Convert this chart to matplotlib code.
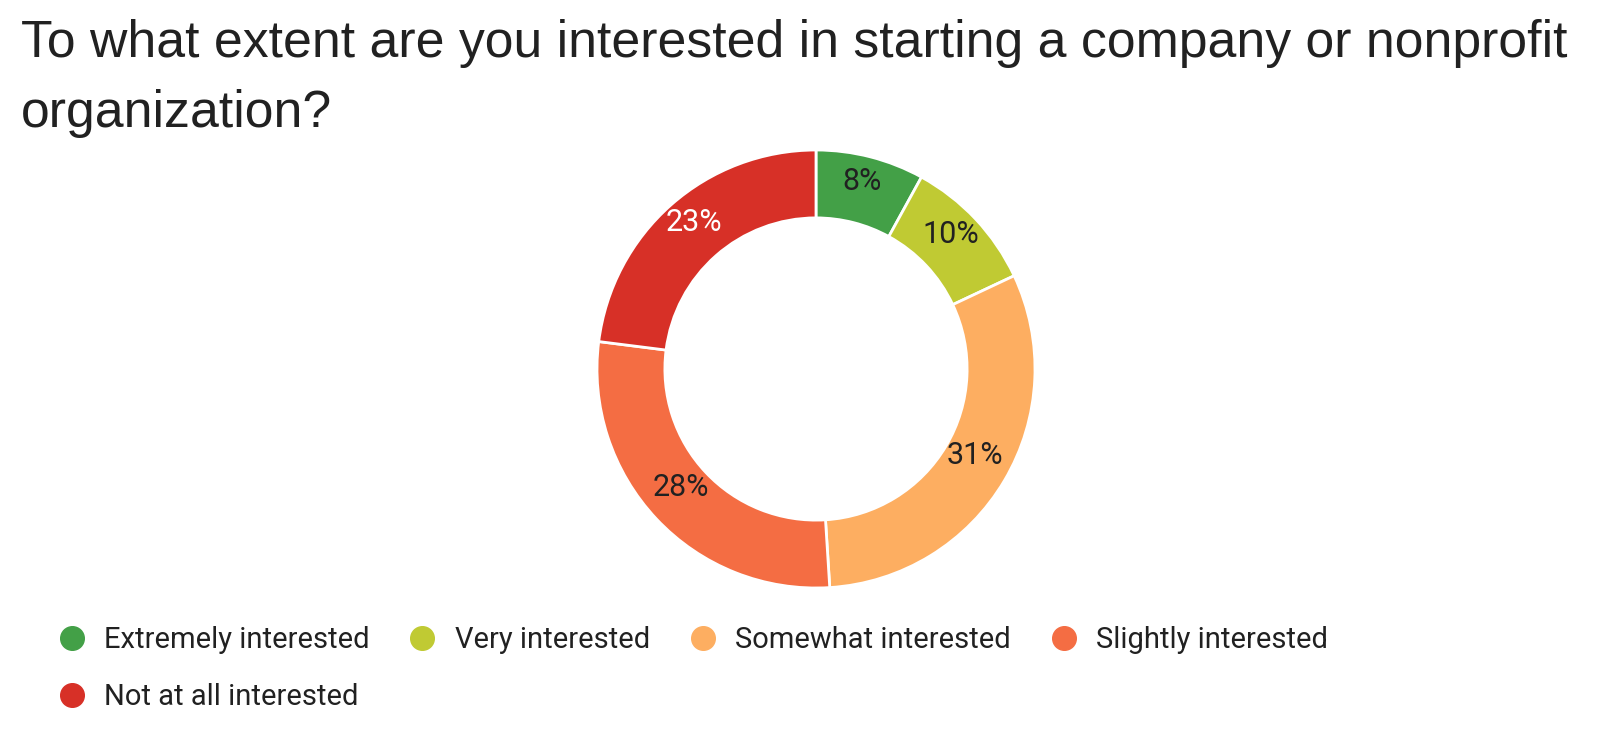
import matplotlib
matplotlib.use('Agg')
import matplotlib.pyplot as plt
from matplotlib.lines import Line2D

title_line1 = 'To what extent are you interested in starting a company or nonprofit'
title_line2 = 'organization?'
categories = ['Extremely interested', 'Very interested', 'Somewhat interested',
              'Slightly interested', 'Not at all interested']
values = [8, 10, 31, 28, 23]
colors = ['#43A047', '#C0CA33', '#FDAE61', '#F46D43', '#D73027']
label_colors = ['#212121', '#212121', '#212121', '#212121', '#FFFFFF']

W, H = 1600, 729
fig = plt.figure(figsize=(16, 7.29), dpi=100)

# title, two lines, left aligned
fig.text(21 / W, 1 - 57 / H, title_line1, fontsize=37.3, family='Liberation Sans',
         color='#212121', va='baseline', ha='left')
fig.text(21 / W, 1 - 127 / H, title_line2, fontsize=37.3, family='Liberation Sans',
         color='#212121', va='baseline', ha='left')

# donut, center (816, 369) px, outer radius 219 px
cx, cy, r = 816, 369, 219
ax = fig.add_axes([(cx - r) / W, (H - cy - r) / H, 2 * r / W, 2 * r / H])
wedges, texts, autotexts = ax.pie(values, colors=colors, startangle=90, counterclock=False,
                                  radius=1, autopct='%d%%', pctdistance=0.845,
                                  wedgeprops=dict(width=0.31, edgecolor='white', linewidth=2))
lift = 8 / r  # labels sit a little above the mid-ring point
for t, c in zip(autotexts, label_colors):
    t.set_color(c)
    t.set_fontsize(22)
    t.set_family('Roboto')
    x, y = t.get_position()
    t.set_position((x, y + lift))
ax.set_xlim(-1, 1)
ax.set_ylim(-1, 1)
ax.set_aspect('equal')
ax.axis('off')

# legend, reordered so the columns fill row by row
handles = [Line2D([], [], marker='o', linestyle='', markersize=17, markerfacecolor=c,
                  markeredgecolor=c) for c in colors]
order = [0, 4, 1, 2, 3]
leg = fig.legend([handles[i] for i in order], [categories[i] for i in order], ncol=4,
                 loc='upper left', bbox_to_anchor=(60 / W, 1 - 626 / H),
                 bbox_transform=fig.transFigure, frameon=False, borderpad=0,
                 borderaxespad=0, prop={'family': 'Roboto', 'size': 21},
                 handlelength=0.8, handletextpad=0.7, columnspacing=1.42,
                 labelspacing=0.99)
for t in leg.get_texts():
    t.set_color('#212121')

fig.savefig('out.png', dpi=100, facecolor='white')
